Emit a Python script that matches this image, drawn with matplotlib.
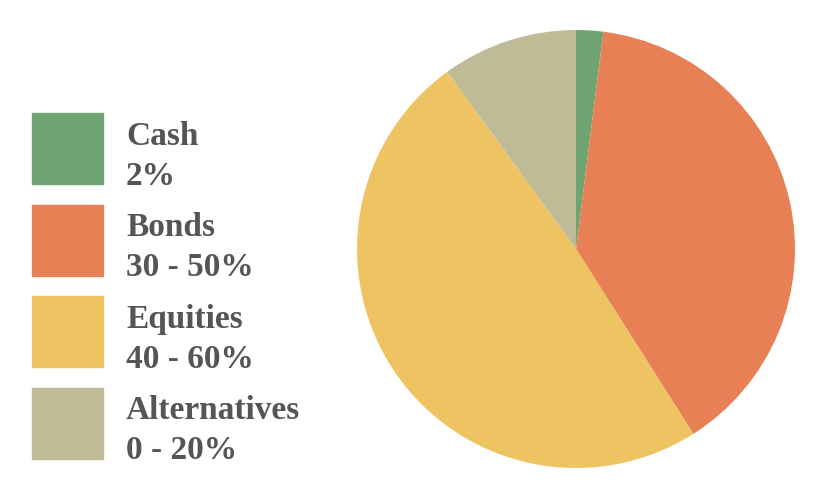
import matplotlib
matplotlib.use("Agg")
import matplotlib.pyplot as plt
from matplotlib.patches import Rectangle

categories = ["Cash", "Bonds", "Equities", "Alternatives"]
shares = [2, 39, 49, 10]
ranges = ["2%", "30 - 50%", "40 - 60%", "0 - 20%"]
colours = ["#6fa371", "#e78155", "#eec463", "#c0bb97"]

W, H = 827, 502
fig = plt.figure(figsize=(W / 100, H / 100), dpi=100)
fig.patch.set_facecolor("white")

# pie, centre (576, 250) px, radius 219 px
cx, cy, r = 576, 250, 219
ax = fig.add_axes([(cx - r) / W, (H - cy - r) / H, 2 * r / W, 2 * r / H])
ax.pie(shares, colors=colours, startangle=90, counterclock=False,
       radius=1, wedgeprops=dict(linewidth=0))
ax.set_xlim(-1, 1)
ax.set_ylim(-1, 1)
ax.set_aspect("equal")
ax.axis("off")

# legend blocks
box_x, box_w = 32, 71
box_top0, step = 114, 91.5
txt_col = "#555555"
for i, (name, rng, col) in enumerate(zip(categories, ranges, colours)):
    top = box_top0 + i * step
    fig.patches.append(Rectangle((box_x / W, (H - top - box_w) / H),
                                 box_w / W, box_w / H, color=col,
                                 transform=fig.transFigure, figure=fig))
    fig.text(126 / W, (H - top - 31) / H, name, fontsize=24,
             family="Liberation Serif", weight="bold", color=txt_col,
             va="baseline", ha="left")
    fig.text(126 / W, (H - top - 71) / H, rng, fontsize=24,
             family="Liberation Serif", weight="bold", color=txt_col,
             va="baseline", ha="left")

fig.savefig("out.png", dpi=100, facecolor="white")
